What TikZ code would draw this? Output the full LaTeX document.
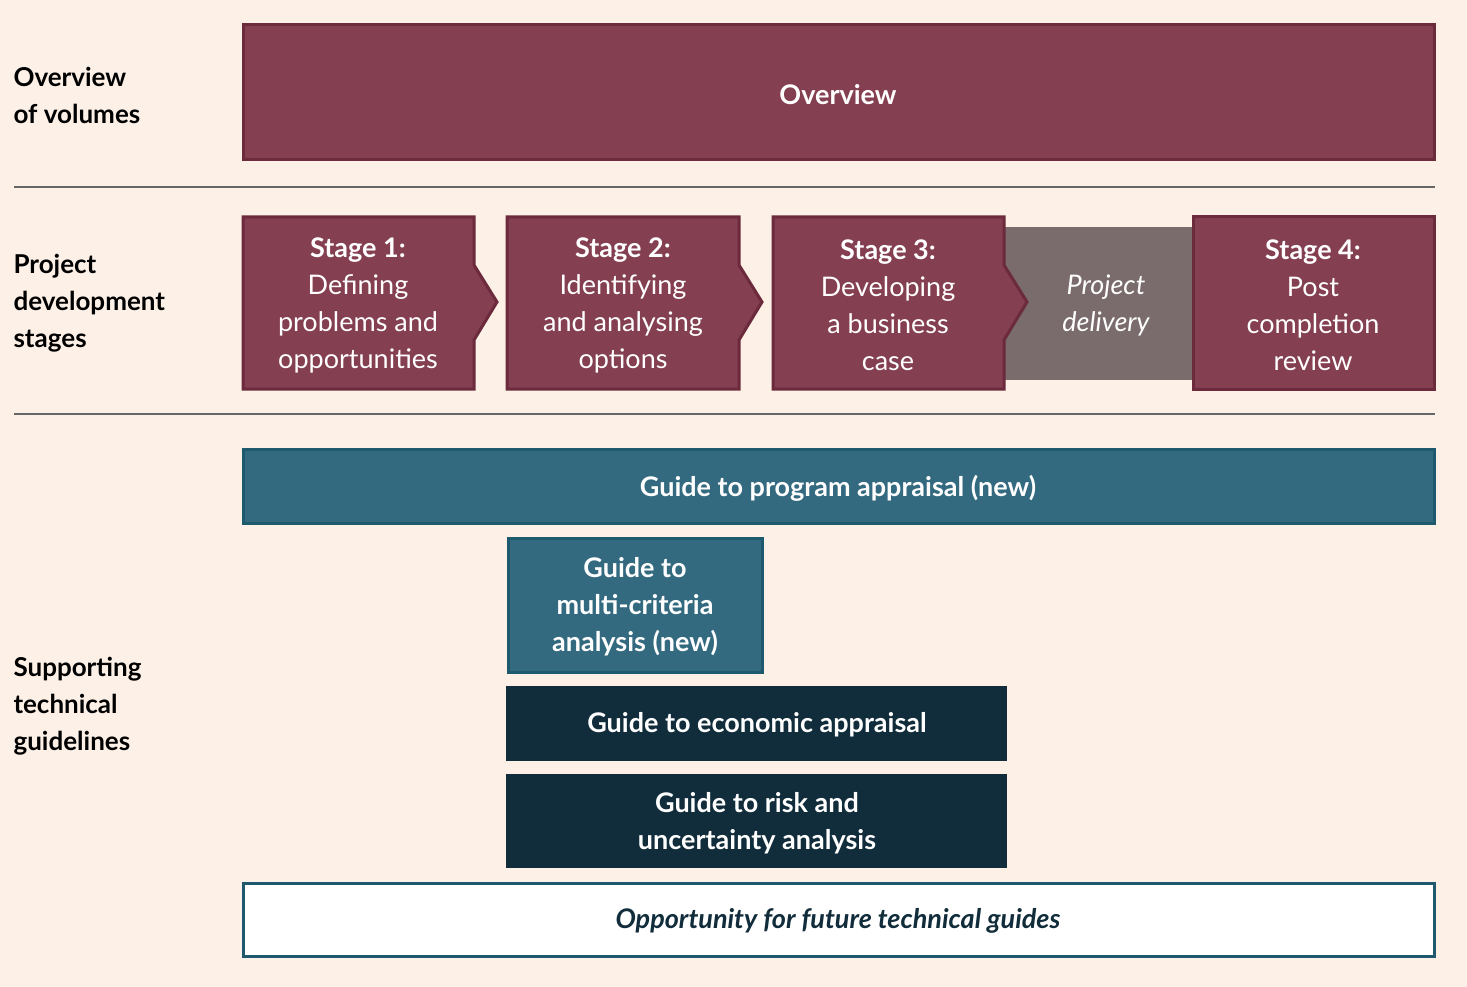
\documentclass[tikz,border=0pt]{standalone}
\usepackage{fontspec}
\setmainfont{Lato}
\definecolor{bgcream}{HTML}{FDF0E6}
\definecolor{maroon}{HTML}{843F51}
\definecolor{maroonedge}{HTML}{6C2A3D}
\definecolor{delivgrey}{HTML}{7A6B6C}
\definecolor{teal}{HTML}{336A80}
\definecolor{tealedge}{HTML}{1D5A6D}
\definecolor{navy}{HTML}{112C3A}
\tikzset{
  side/.style={anchor=west,align=left,font=\fontsize{26}{37}\selectfont\bfseries,text=black},
  inbox/.style={align=center,text=white,font=\fontsize{27}{37}\selectfont},
  stagebox/.style={fill=maroon,draw=maroonedge,line width=3pt},
}
\newcommand{\stage}[3]{% left, right, tip
  \draw[stagebox] (#1,217) -- (#2,217) -- (#2,265) -- (#3,302) -- (#2,340)
    -- (#2,389) -- (#1,389) -- cycle;}
\begin{document}
\begin{tikzpicture}[x=1pt,y=-1pt]
  \fill[bgcream] (0,0) rectangle (1467,987);
  \useasboundingbox (0,0) rectangle (1467,987);
  % row labels
  \node[side] (lblvol) at (10,95) {Overview\\of volumes};
  \node[side] (lblstage) at (10,303) {Project\\development\\stages};
  \node[side] (lblsup) at (10,706) {Supporting\\technical\\guidelines};
  \draw[gray!80!black,line width=1.2pt] (14,187) -- (1435,187);
  \draw[gray!80!black,line width=1.2pt] (14,414) -- (1435,414);
  % overview
  \draw[stagebox] (243,25) rectangle (1434,160);
  \node[inbox,font=\fontsize{27}{37}\selectfont\bfseries] (ovw) at (838,95) {Overview};
  % stages
  \fill[delivgrey] (1004,227) rectangle (1193,380);
  \stage{243}{474}{497}
  \stage{507}{739}{762}
  \stage{773}{1004}{1027}
  \draw[stagebox] (1193,217) rectangle (1434,389);
  \node[inbox] (st1) at (358,305) {\textbf{Stage 1:}\\Defining\\problems and\\opportunities};
  \node[inbox] (st2) at (623,305) {\textbf{Stage 2:}\\Identifying\\and analysing\\options};
  \node[inbox] (st3) at (888,305) {\textbf{Stage 3:}\\Developing\\a business\\case};
  \node[inbox,font=\fontsize{27}{37}\selectfont\itshape] (deliv) at (1106,305) {Project\\delivery};
  \node[inbox] (st4) at (1313,305) {\textbf{Stage 4:}\\Post\\completion\\review};
  % guides
  \draw[fill=teal,draw=tealedge,line width=3pt] (243,449) rectangle (1434,523);
  \node[inbox,font=\fontsize{27}{37}\selectfont\bfseries] (gpa) at (838,488) {Guide to program appraisal (new)};
  \draw[fill=teal,draw=tealedge,line width=3pt] (508,538) rectangle (762,672);
  \node[inbox,font=\fontsize{27}{37}\selectfont\bfseries] (gmca) at (635,607) {Guide to\\multi-criteria\\analysis (new)};
  \fill[navy] (506,686) rectangle (1007,761);
  \node[inbox,font=\fontsize{27}{37}\selectfont\bfseries] (gea) at (757,725) {Guide to economic appraisal};
  \fill[navy] (506,774) rectangle (1007,868);
  \node[inbox,font=\fontsize{27}{37}\selectfont\bfseries] (grisk) at (757,823) {Guide to risk and\\uncertainty analysis};
  \draw[fill=white,draw=tealedge,line width=3pt] (243,883) rectangle (1434,956);
  \node[inbox,text=navy,font=\fontsize{27}{37}\selectfont\bfseries\itshape] (gfut) at (838,921) {Opportunity for future technical guides};
\end{tikzpicture}
\end{document}
